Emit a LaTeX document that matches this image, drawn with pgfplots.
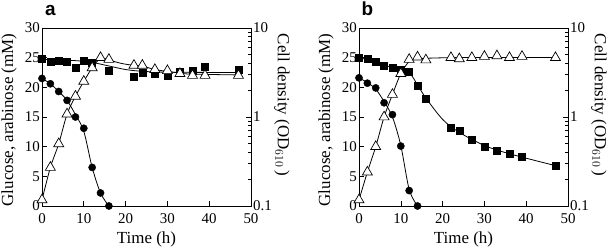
\documentclass[border=0pt]{standalone}
\usepackage{fontspec}
\setmainfont{Liberation Serif}
\newfontfamily\labelfont{Liberation Sans}
\usepackage{pgfplots}
\pgfplotsset{compat=1.18}
\pgfplotsset{
  myBase/.style={scale only axis, width=209bp, height=178bp, xmin=0, xmax=50, clip=false,
    tick label style={font=\fontsize{15}{15}\selectfont},
    label style={font=\fontsize{17}{17}\selectfont},
    /pgf/number format/assume math mode=true,
    tick align=inside, major tick length=5bp, minor tick length=3bp,
    axis line style={line width=0.8pt}, tick style={line width=0.6pt, black}},
  myLeft/.style={myBase, ymin=0, ymax=30, ytick={0,5,...,30}, xtick={0,10,...,50},
    ytick pos=left, xtick pos=bottom,
    yticklabel style={inner xsep=2bp},
    xticklabel style={yshift=-4bp},
    ylabel={Glucose, arabinose (mM)}, xlabel={Time (h)},
    ylabel style={at={(axis description cs:-0.158,0.483)}, anchor=center},
    xlabel style={at={(axis description cs:0.5,-0.19)}, anchor=center}},
  myRight/.style={myBase, ymin=0.1, ymax=10, hide x axis, axis y line*=right,
    ytick={0.1,1,10}, yticklabels={0.1,1,10},
    yticklabel style={inner xsep=2bp},
    ylabel={Cell density (OD$_{610}$\,)},
    ylabel style={at={(axis description cs:1.148,0.567)}, anchor=center, rotate=180}},
  mySq/.style={only marks, mark=square*, mark size=3.5bp, mark options={fill=black}},
  myCi/.style={only marks, mark=*, mark size=3.6bp, mark options={fill=black}},
  myTr/.style={only marks, mark=triangle*, mark size=5.8bp, mark options={fill=white, draw=black, line width=0.7pt}},
  myLn/.style={no marks, smooth, black, line width=0.8pt},
}
\begin{document}
\begin{tikzpicture}
\useasboundingbox (-42bp,-42bp) rectangle (567bp,206bp);
% ---------- panel a ----------
\begin{axis}[myLeft]
\addplot[myLn] coordinates {(0,24.7) (8,24.5) (12,24.2) (16,23.6) (20,23.0) (24,22.7) (30,22.55) (47,22.5)};
\addplot[myLn] coordinates {(0,21.5) (2,20.6) (4,19.3) (6,17.8) (8,15.4) (10,12.6) (12,6.5) (14,2.2) (16,0)};
\addplot[mySq] coordinates {(0,24.8) (2,24.3) (4,24.5) (6,24.3) (8,23.3) (10,24.5) (12,24.2) (16,22.8) (22,21.8) (24,22.5) (27,22.3) (30,21.9) (33,22.7) (36,22.8) (39,23.5) (47,22.9)};
\addplot[myCi] coordinates {(0,21.5) (2,20.6) (4,19.3) (6,17.8) (8,15.0) (10,13.1) (12,6.5) (14,2.2) (16,0)};
\node[font=\labelfont\bfseries\fontsize{19}{19}\selectfont, anchor=base] at (rel axis cs:0.04,1) [yshift=13bp] {a};
\end{axis}
\begin{axis}[ymode=log, myRight]
\addplot[myLn] coordinates {(0,0.117) (2,0.271) (4,0.50) (6,1.08) (8,1.71) (10,2.51) (12,3.57) (14,4.57) (16,4.37) (19,4.0) (22,3.80) (24,3.74) (27,3.41) (30,3.26) (33,3.11) (36,3.03) (47,2.97)};
\addplot[myTr] coordinates {(0,0.117) (2,0.271) (4,0.50) (6,1.08) (8,1.71) (10,2.51) (12,3.57) (14,4.64) (16,4.43) (22,3.80) (24,3.80) (27,3.41) (30,3.31) (33,3.07) (36,2.93) (39,2.93) (47,2.93)};
\end{axis}
% ---------- panel b ----------
\begin{axis}[myLeft, at={(317bp,0)}]
\addplot[myLn] coordinates {(0,25) (4,24.3) (8,23.3) (12,22.4) (14,20.4) (16,18.2) (20,14.6) (24,12.4) (30,10.2) (36,8.8) (47,6.8)};
\addplot[myLn] coordinates {(0,21.6) (2,20.8) (4,19.7) (6,17.6) (8,15.0) (10,10.2) (12,2.8) (14,0)};
\addplot[mySq] coordinates {(0,25.0) (2,24.8) (4,24.3) (6,23.7) (8,23.3) (10,22.9) (12,22.6) (14,20.2) (16,18.1) (22,13.2) (24,12.7) (27,11.2) (30,10.0) (33,9.3) (36,8.8) (39,8.3) (47,6.8)};
\addplot[myCi] coordinates {(0,21.6) (2,20.7) (4,19.9) (6,17.4) (8,15.4) (10,10.1) (12,2.6) (14,0)};
\node[font=\labelfont\bfseries\fontsize{19}{19}\selectfont, anchor=base] at (rel axis cs:0.04,1) [yshift=13bp] {b};
\end{axis}
\begin{axis}[ymode=log, myRight, at={(317bp,0)}]
\addplot[myLn] coordinates {(0,0.117) (2,0.24) (4,0.464) (6,1.0) (8,1.79) (10,3.07) (12,4.2) (14,4.5) (18,4.6) (25,4.65) (47,4.65)};
\addplot[myTr] coordinates {(0,0.117) (2,0.240) (4,0.464) (6,1.0) (8,1.79) (10,3.07) (12,4.43) (14,4.71) (16,4.37) (22,4.64) (24,4.50) (27,4.64) (30,4.79) (33,4.86) (36,4.64) (39,4.79) (47,4.64)};
\end{axis}
\end{tikzpicture}
\end{document}
